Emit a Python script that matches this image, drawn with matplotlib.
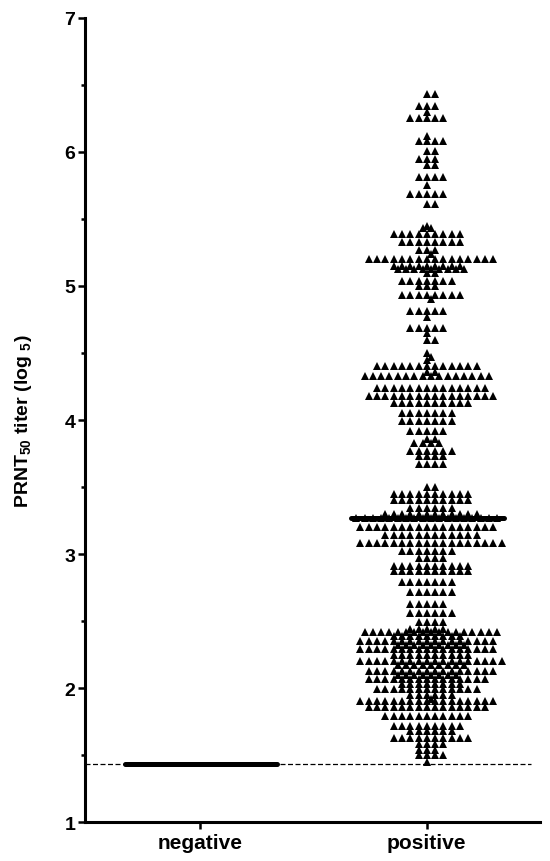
import numpy as np
import matplotlib
matplotlib.use("Agg")
import matplotlib.pyplot as plt

plt.rcParams['font.family'] = ['Liberation Sans', 'DejaVu Sans']
plt.rcParams['font.weight'] = 'bold'
plt.rcParams['mathtext.fontset'] = 'custom'
plt.rcParams['mathtext.rm'] = 'Liberation Sans:bold'
plt.rcParams['mathtext.bf'] = 'Liberation Sans:bold'
plt.rcParams['mathtext.default'] = 'rm'

# groups on the x axis
groups = ['negative', 'positive']
group_pos = [1, 2]

pos_levels = [6.43, 6.34, 6.30, 6.25, 6.12, 6.08, 6.01, 5.95, 5.90, 5.81, 5.75, 5.69, 5.61,
              5.45, 5.43, 5.39, 5.33, 5.27, 5.24, 5.20, 5.15, 5.13, 5.10, 5.04, 5.00,
              4.93, 4.90, 4.81, 4.77, 4.69, 4.65, 4.60, 4.50, 4.47, 4.45, 4.40, 4.36,
              4.33, 4.24, 4.18, 4.13, 4.05, 3.99, 3.92, 3.86, 3.83, 3.77, 3.73, 3.67,
              3.50, 3.45, 3.40, 3.34, 3.30, 3.27, 3.20, 3.14, 3.08, 3.02, 2.97, 2.91,
              2.87, 2.79, 2.72, 2.63, 2.56, 2.49, 2.44, 2.42, 2.39, 2.35, 2.32, 2.29,
              2.25, 2.20, 2.17, 2.13, 2.10, 2.07, 2.03, 1.99, 1.95, 1.92, 1.90, 1.86,
              1.79, 1.72, 1.68, 1.63, 1.58, 1.54, 1.50, 1.45]
pos_counts = [2, 3, 1, 5, 1, 4, 2, 3, 2, 4, 1, 5, 2,
              1, 2, 9, 8, 3, 1, 16, 9, 9, 2, 7, 3,
              8, 1, 5, 1, 5, 1, 2, 1, 1, 1, 13, 2,
              16, 14, 16, 10, 7, 7, 5, 2, 4, 6, 4, 4,
              2, 10, 10, 6, 12, 18, 17, 12, 18, 7, 4, 10,
              10, 7, 6, 5, 6, 4, 5, 17, 9, 17, 9, 17,
              10, 18, 9, 16, 8, 15, 8, 13, 6, 1, 17, 15,
              11, 9, 6, 10, 4, 3, 4, 1]

medians = [1.43, 3.27]
detection_limit = 1.43

pos_values = np.repeat(pos_levels, pos_counts)

fig = plt.figure(figsize=(5.5, 8.62), dpi=100)
ax = fig.add_axes([0.1545, 0.0452, 0.8273, 0.9328])
ax.set_xlim(0.49, 2.5)
ax.set_ylim(1, 7)


def swarm_x(ax, x0, vals, step=4.15, dmin=4.5):
    # greedy beeswarm worked out in display pixels, then mapped back to data
    to_px = ax.transData
    px = to_px.transform(np.column_stack([np.full(len(vals), x0), vals]))
    cx = px[0, 0]
    order = np.argsort(-px[:, 1])
    placed = []
    xs = np.zeros(len(vals))
    cands = [0.0]
    for k in range(1, 60):
        cands += [k * step, -k * step]
    for i in order:
        y = px[i, 1]
        near = [p for p in placed if abs(p[1] - y) < dmin]
        for c in cands:
            ok = True
            for p in near:
                if (p[0] - (cx + c)) ** 2 + (p[1] - y) ** 2 < dmin ** 2:
                    ok = False
                    break
            if ok:
                break
        placed.append((cx + c, y))
        xs[i] = cx + c
    back = to_px.inverted().transform(np.column_stack([xs, px[:, 1]]))
    return back[:, 0]


xs = swarm_x(ax, group_pos[1], pos_values)
ax.plot(xs, pos_values, linestyle='none', marker='^', ms=5.4, color='black',
        markeredgewidth=0, zorder=3)

# detection limit
ax.plot([0.49, 2.46], [detection_limit, detection_limit], color='black', lw=0.9,
        dashes=(4, 2), zorder=1)

# medians
for gx, m in zip(group_pos, medians):
    ax.plot([gx - 0.335, gx + 0.34], [m, m], color='black', lw=3.6,
            solid_capstyle='round', zorder=4)

for s in ['top', 'right']:
    ax.spines[s].set_visible(False)
for s in ['left', 'bottom']:
    ax.spines[s].set_linewidth(2.2)

ax.set_yticks(range(1, 8))
ax.set_yticks(np.arange(1.5, 7, 1), minor=True)
ax.set_xticks(group_pos)
ax.set_xticklabels(groups)
ax.tick_params(axis='y', which='major', length=5, width=1.8, labelsize=14, pad=2)
ax.tick_params(axis='y', which='minor', length=3, width=1.8)
ax.tick_params(axis='x', length=5, width=1.8, labelsize=15, pad=3)
for lab in ax.get_xticklabels() + ax.get_yticklabels():
    lab.set_fontweight('bold')

ax.set_ylabel(r'PRNT$_{50}$ titer (log $_{5}$)', fontsize=14, fontweight='bold', labelpad=22)

fig.savefig('out.png', dpi=100)
